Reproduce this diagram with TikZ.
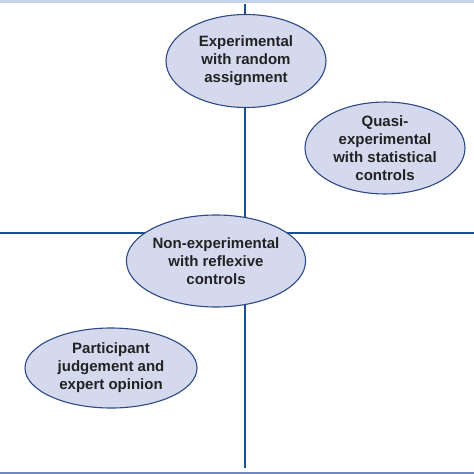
\documentclass[tikz,border=0pt]{standalone}
\usepackage{fontspec}
\setmainfont{Liberation Sans}
\usetikzlibrary{shapes.geometric}
\definecolor{axis}{HTML}{1F4E8C}
\definecolor{ellfill}{HTML}{D5D9EE}
\definecolor{elldraw}{HTML}{2E4A86}
\definecolor{txt}{HTML}{222222}
\definecolor{topband}{HTML}{C2D5E8}
\definecolor{botband}{HTML}{7088C0}
\tikzset{
  axisline/.style={draw=axis, line width=2pt},
  method/.style={ellipse, draw=elldraw, fill=ellfill, line width=1.1pt, inner sep=0pt,
    text=txt, font=\fontsize{15}{18}\selectfont\bfseries, align=center}
}
\begin{document}
\begin{tikzpicture}[x=1pt,y=-1pt]
\useasboundingbox (0,0) rectangle (474,474);
\fill[topband] (0,0) rectangle (474,2.5);
\fill[botband] (0,471.5) rectangle (474,474);
\coordinate (vtop) at (245,4);
\coordinate (vbot) at (245,468);
\coordinate (hl) at (0,233);
\coordinate (hr) at (474,233);
\draw[axisline] (vtop) -- (vbot);
\draw[axisline] (hl) -- (hr);
\node[method, minimum width=160pt, minimum height=93pt] (exp) at (246,61) {Experimental\\with random\\assignment};
\node[method, minimum width=160pt, minimum height=87pt] (quasi) at (385,148) {Quasi-\\experimental\\with statistical\\controls};
\node[method, minimum width=167pt, minimum height=92pt] (non) at (216,261) {Non-experimental\\with reflexive\\controls};
\node[method, minimum width=172pt, minimum height=80pt] (part) at (111,368) {Participant\\judgement and\\expert opinion};
\end{tikzpicture}
\end{document}
